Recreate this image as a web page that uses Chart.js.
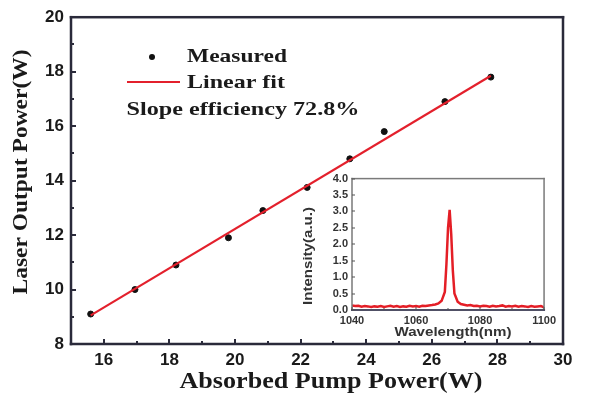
<!DOCTYPE html>
<html>
<head>
<meta charset="utf-8">
<script src="https://cdn.jsdelivr.net/npm/chart.js@4/dist/chart.umd.min.js"></script>
<style>
  html, body { margin: 0; padding: 0; background: #fff; }
  #wrap { position: relative; width: 600px; height: 400px; }
  #main { position: absolute; left: 0; top: 0; }
  #inset { position: absolute; left: 290px; top: 168px; }
</style>
</head>
<body>
<div id="wrap">
  <canvas id="main" width="600" height="400"></canvas>
  <canvas id="inset" width="270" height="180"></canvas>
</div>
<script>
// main plot: output power vs absorbed pump power
const pumpPower = [15.6, 16.95, 18.2, 19.8, 20.85, 22.2, 23.5, 24.55, 26.4, 27.8];
const outputPower = [9.1, 10.0, 10.9, 11.9, 12.9, 13.75, 14.8, 15.8, 16.9, 17.8];
const fitPump = [15.6, 27.8];
const fitOutput = [9.05, 17.85];
const xTicks = [16, 18, 20, 22, 24, 26, 28, 30];
const yTicks = [8, 10, 12, 14, 16, 18, 20];

// inset: emission spectrum
const wavelength = [
  1040, 1041, 1042, 1043, 1044, 1045, 1046, 1047, 1048, 1049,
  1050, 1051, 1052, 1053, 1054, 1055, 1056, 1057, 1058, 1059,
  1060, 1061, 1062, 1063, 1064, 1065, 1066, 1067, 1068, 1069,
  1069.5, 1070, 1070.5, 1071, 1071.5, 1072, 1073, 1074, 1075, 1076,
  1077, 1078, 1079, 1080, 1081, 1082, 1083, 1084, 1085, 1086,
  1087, 1088, 1089, 1090, 1091, 1092, 1093, 1094, 1095, 1096,
  1097, 1098, 1099, 1100
];
const intensity = [
  0.14, 0.12, 0.13, 0.10, 0.12, 0.11, 0.09, 0.11, 0.10, 0.12,
  0.09, 0.11, 0.13, 0.10, 0.12, 0.09, 0.11, 0.10, 0.13, 0.11,
  0.12, 0.10, 0.13, 0.12, 0.14, 0.15, 0.17, 0.20, 0.28, 0.55,
  1.4, 2.5, 3.05, 2.3, 1.2, 0.5, 0.25, 0.18, 0.16, 0.14,
  0.15, 0.12, 0.13, 0.11, 0.13, 0.12, 0.10, 0.13, 0.11, 0.12,
  0.14, 0.10, 0.12, 0.11, 0.13, 0.10, 0.12, 0.11, 0.09, 0.12,
  0.10, 0.11, 0.12, 0.08
];
const insetXTicks = [1040, 1060, 1080, 1100];

const serif = '"Liberation Serif", "Times New Roman", serif';
const sans = '"Liberation Sans", Arial, sans-serif';
const axisColor = "#2a2a3a";

// draws text centred on (cx, cy), stretched to a given width
function stretchText(ctx, text, cx, cy, font, width, angle) {
  ctx.save();
  ctx.font = font;
  const w = ctx.measureText(text).width;
  ctx.translate(cx, cy);
  if (angle) ctx.rotate(angle);
  ctx.scale(width / w, 1);
  ctx.textAlign = "center";
  ctx.textBaseline = "middle";
  ctx.fillText(text, 0, 0);
  ctx.restore();
}

// plot box taken from the scales themselves
function plotBox(x, y) {
  return {
    left: x.getPixelForValue(x.min),
    right: x.getPixelForValue(x.max),
    top: y.getPixelForValue(y.max),
    bottom: y.getPixelForValue(y.min)
  };
}

function drawBox(ctx, a, w, color) {
  ctx.fillStyle = color;
  ctx.fillRect(a.left - w / 2, a.top - w / 2, a.right - a.left + w, w);
  ctx.fillRect(a.left - w / 2, a.bottom - w / 2, a.right - a.left + w, w);
  ctx.fillRect(a.left - w / 2, a.top - w / 2, w, a.bottom - a.top + w);
  ctx.fillRect(a.right - w / 2, a.top - w / 2, w, a.bottom - a.top + w);
}

const mainDecor = {
  id: "mainDecor",
  afterDraw(chart) {
    const { ctx, scales: { x, y } } = chart;
    ctx.save();
    // axis titles
    ctx.fillStyle = "#1a1a1a";
    stretchText(ctx, "Absorbed Pump Power(W)", 331, 382, "bold 24px " + serif, 303);
    stretchText(ctx, "Laser Output Power(W)", 22, 172, "bold 21px " + serif, 245, -Math.PI / 2);

    // legend
    ctx.fillStyle = "#111";
    ctx.beginPath();
    ctx.arc(152, 57, 3, 0, Math.PI * 2);
    ctx.fill();
    ctx.fillStyle = "#e3202c";
    ctx.fillRect(127, 81, 53, 2);
    ctx.fillStyle = "#1a1a1a";
    stretchText(ctx, "Measured", 187 + 50, 57, "bold 19px " + serif, 100);
    stretchText(ctx, "Linear fit", 187 + 49, 83, "bold 19px " + serif, 98);
    stretchText(ctx, "Slope efficiency 72.8%", 127 + 116, 110, "bold 19px " + serif, 233);
    ctx.restore();

    // frame and inward ticks, drawn last
    const a = plotBox(x, y);
    ctx.save();
    ctx.setTransform(1, 0, 0, 1, 0, 0);
    ctx.globalAlpha = 1;
    ctx.globalCompositeOperation = "source-over";
    drawBox(ctx, a, 2.5, axisColor);
    ctx.fillStyle = axisColor;
    for (let v = Math.ceil(x.min); v <= x.max; v++) {
      const px = Math.round(x.getPixelForValue(v));
      const len = v % 2 === 0 ? 5 : 3;
      ctx.fillRect(px - 1, a.bottom - len, 2, len);
    }
    for (let v = Math.ceil(y.min); v <= y.max; v++) {
      const py = Math.round(y.getPixelForValue(v));
      const len = v % 2 === 0 ? 5 : 3;
      ctx.fillRect(a.left, py - 1, len, 2);
    }
    ctx.restore();
  }
};

const insetDecor = {
  id: "insetDecor",
  afterDraw(chart) {
    const { ctx, scales: { x, y } } = chart;
    const a = plotBox(x, y);
    ctx.save();
    drawBox(ctx, a, 1.5, "#7a7a7a");
    ctx.fillStyle = "#3a3a55";
    ctx.fillRect(a.left - 1, a.bottom - 0.75, a.right - a.left + 2, 1.5);
    ctx.fillStyle = "#555";
    for (let v = 1040; v <= 1100; v += 10) {
      const px = Math.round(x.getPixelForValue(v));
      const len = v % 20 === 0 ? 3 : 2;
      ctx.fillRect(px - 0.5, a.bottom - len, 1, len);
    }
    for (let v = 0; v <= 4; v += 0.5) {
      const py = Math.round(y.getPixelForValue(v));
      ctx.fillRect(a.left, py - 0.5, 3, 1);
    }
    ctx.fillStyle = "#333";
    stretchText(ctx, "Wavelength(nm)", 163, 164, "bold 13px " + sans, 117);
    stretchText(ctx, "Intensity(a.u.)", 19, 88, "bold 12px " + sans, 98, -Math.PI / 2);
    ctx.restore();
  }
};

new Chart(document.getElementById("main").getContext("2d"), {
  type: "scatter",
  data: {
    datasets: [
      {
        label: "Linear fit",
        data: fitPump.map((v, i) => ({ x: v, y: fitOutput[i] })),
        showLine: true,
        borderColor: "#e3202c",
        borderWidth: 2.2,
        pointRadius: 0
      },
      {
        label: "Measured",
        data: pumpPower.map((v, i) => ({ x: v, y: outputPower[i] })),
        backgroundColor: "#111",
        borderColor: "#111",
        pointRadius: 3
      }
    ]
  },
  options: {
    responsive: false,
    animation: false,
    layout: { padding: { top: 17, right: 37, left: 0, bottom: 0 } },
    plugins: { legend: { display: false }, tooltip: { enabled: false } },
    scales: {
      x: {
        min: 15,
        max: 30,
        afterBuildTicks: (s) => { s.ticks = xTicks.map((v) => ({ value: v })); },
        afterFit: (s) => { s.height = 56; },
        grid: { display: false, drawTicks: false },
        border: { display: false },
        ticks: { padding: 6, color: "#1a1a1a", font: { family: sans, weight: "bold", size: 17 } }
      },
      y: {
        min: 8,
        max: 20,
        afterBuildTicks: (s) => { s.ticks = yTicks.map((v) => ({ value: v })); },
        afterFit: (s) => { s.width = 71; },
        grid: { display: false, drawTicks: false },
        border: { display: false },
        ticks: { padding: 7, color: "#1a1a1a", font: { family: sans, weight: "bold", size: 17 } }
      }
    }
  },
  plugins: [mainDecor]
});

new Chart(document.getElementById("inset").getContext("2d"), {
  type: "scatter",
  data: {
    datasets: [
      {
        label: "Spectrum",
        data: wavelength.map((v, i) => ({ x: v, y: intensity[i] })),
        showLine: true,
        borderColor: "#e41e26",
        borderWidth: 2.5,
        pointRadius: 0,
        tension: 0
      }
    ]
  },
  options: {
    responsive: false,
    animation: false,
    layout: { padding: { top: 9, right: 14, left: 0, bottom: 0 } },
    plugins: { legend: { display: false }, tooltip: { enabled: false } },
    scales: {
      x: {
        min: 1040,
        max: 1100,
        afterBuildTicks: (s) => { s.ticks = insetXTicks.map((v) => ({ value: v })); },
        afterFit: (s) => { s.height = 38; },
        grid: { display: false, drawTicks: false },
        border: { display: false },
        ticks: {
          padding: 4,
          color: "#333",
          font: { family: sans, weight: "bold", size: 11 },
          callback: (v) => String(v)
        }
      },
      y: {
        min: 0,
        max: 4,
        afterFit: (s) => { s.width = 62; },
        grid: { display: false, drawTicks: false },
        border: { display: false },
        ticks: {
          stepSize: 0.5,
          padding: 4,
          color: "#333",
          font: { family: sans, weight: "bold", size: 11 },
          callback: (v) => v.toFixed(1)
        }
      }
    }
  },
  plugins: [insetDecor]
});
</script>
</body>
</html>
